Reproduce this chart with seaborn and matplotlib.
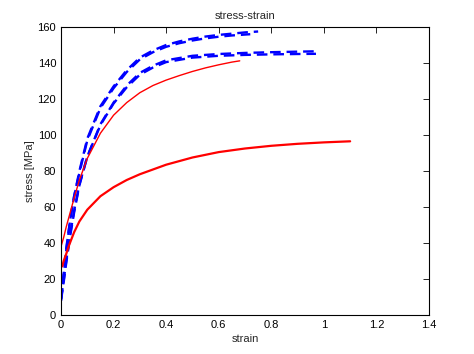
import pandas as pd
import matplotlib
matplotlib.use("Agg")
import matplotlib.pyplot as plt
import seaborn as sns
from matplotlib.ticker import FuncFormatter

# Curve samples (strain, stress in MPa)
blue1_strain = [0, 0.01, 0.02, 0.035, 0.05, 0.07, 0.1, 0.15, 0.2, 0.25, 0.3,
                0.35, 0.4, 0.45, 0.5, 0.55, 0.6, 0.65, 0.7, 0.75]
blue1_stress = [8, 22, 36, 53, 66, 80, 98, 116, 127, 136, 143,
                147, 150, 152, 153.5, 154.7, 155.6, 156.3, 157, 157.5]
blue2_strain = [0, 0.01, 0.02, 0.035, 0.05, 0.07, 0.1, 0.15, 0.2, 0.25, 0.3,
                0.35, 0.4, 0.45, 0.5, 0.55, 0.6, 0.65, 0.72]
blue2_stress = [9, 23, 37, 53, 66, 79, 97, 115, 126, 135, 142,
                146, 149, 151, 152.5, 153.7, 154.6, 155.3, 156]
blue3_strain = [0, 0.01, 0.02, 0.035, 0.05, 0.07, 0.1, 0.15, 0.2, 0.25, 0.3,
                0.35, 0.4, 0.5, 0.6, 0.7, 0.8, 0.9, 0.97]
blue3_stress = [8, 18, 29, 44, 57, 72, 88, 106, 118, 127.5, 134.5,
                138.5, 141.5, 144, 145, 145.6, 146, 146.3, 146.5]
blue4_strain = [0, 0.01, 0.02, 0.035, 0.05, 0.07, 0.1, 0.15, 0.2, 0.25, 0.3,
                0.35, 0.4, 0.5, 0.6, 0.7, 0.8, 0.9, 0.97]
blue4_stress = [9, 19, 30, 45, 58, 72.5, 88, 105.5, 117.5, 126.5, 133.5,
                137.5, 140.5, 143, 144, 144.5, 144.8, 145, 145.1]
red1_strain = [0, 0.01, 0.02, 0.035, 0.05, 0.07, 0.1, 0.15, 0.2, 0.25, 0.3,
               0.35, 0.4, 0.45, 0.5, 0.55, 0.6, 0.65, 0.68]
red1_stress = [38, 43, 49, 57, 65, 75, 87, 101, 111, 118, 123.5,
               127.5, 130.5, 133, 135.3, 137.3, 139, 140.5, 141.2]
red2_strain = [0.005, 0.01, 0.02, 0.03, 0.05, 0.07, 0.1, 0.15, 0.2, 0.25, 0.3,
               0.4, 0.5, 0.6, 0.7, 0.8, 0.9, 1.0, 1.1]
red2_stress = [27, 30, 34, 38.5, 46, 52, 58.5, 66, 71, 75, 78.2,
               83.5, 87.5, 90.5, 92.5, 94, 95.1, 95.9, 96.5]

sns.set_style("white")
plt.rcParams["font.family"] = ["Liberation Sans", "DejaVu Sans"]

fig = plt.figure(figsize=(4.74, 3.54), dpi=100)
ax = fig.add_axes([61 / 474, 1 - 315 / 354, 368 / 474, 288 / 354])

for xs, ys in [(blue1_strain, blue1_stress), (blue2_strain, blue2_stress),
               (blue3_strain, blue3_stress), (blue4_strain, blue4_stress)]:
    sns.lineplot(x=xs, y=ys, ax=ax, color="#0000ff", linewidth=1.7,
                 linestyle=(0, (4.5, 2.5)), sort=False, estimator=None)
sns.lineplot(x=red1_strain, y=red1_stress, ax=ax, color="#ff0000", linewidth=1.0,
             sort=False, estimator=None)
sns.lineplot(x=red2_strain, y=red2_stress, ax=ax, color="#ff0000", linewidth=1.6,
             sort=False, estimator=None)

ax.set_xlim(0, 1.4)
ax.set_ylim(0, 160)
ax.set_xticks([0, 0.2, 0.4, 0.6, 0.8, 1, 1.2, 1.4])
ax.set_yticks(range(0, 161, 20))
ax.xaxis.set_major_formatter(FuncFormatter(lambda v, p: f"{v:g}"))
ax.tick_params(direction="in", length=4, width=0.6, labelsize=8, top=True, right=True,
               colors="black")
for s in ax.spines.values():
    s.set_linewidth(0.8)
    s.set_color("black")
ax.set_xlabel("strain", fontsize=8, labelpad=3)
ax.set_ylabel("stress [MPa]", fontsize=8, labelpad=2)
ax.set_title("stress-strain", fontsize=8, pad=6)

fig.savefig("out.png", dpi=100)
